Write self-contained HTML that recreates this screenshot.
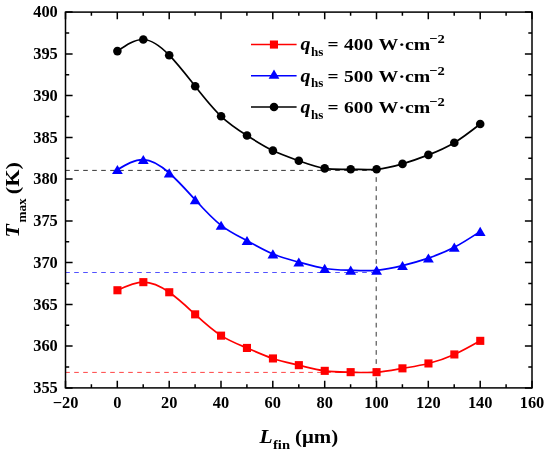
<!DOCTYPE html><html><head><meta charset="utf-8"><title>Tmax vs Lfin</title><style>html,body{margin:0;padding:0;background:#fff}svg{display:block}text{font-family:"Liberation Serif",serif;font-weight:bold;fill:#000}</style></head><body>
<svg width="550" height="457" viewBox="0 0 550 457">
<rect width="550" height="457" fill="#fff"/>
<g fill="none" stroke-width="0.85" stroke-dasharray="4.6 4.4">
<path d="M65.2,170.4H376.2" stroke="#111"/>
<path d="M376.2,168.1V387.9" stroke="#111" stroke-dasharray="4.7 4.4"/>
<path d="M65.2,272.5H376.2" stroke="#33f"/>
<path d="M65.2,372.4H376.2" stroke="#f22"/>
</g>
<path d="M65.5,387.9v-7.1M65.5,12.1v7.1M91.4,387.9v-3.7M91.4,12.1v3.7M117.3,387.9v-7.1M117.3,12.1v7.1M143.2,387.9v-3.7M143.2,12.1v3.7M169.2,387.9v-7.1M169.2,12.1v7.1M195.1,387.9v-3.7M195.1,12.1v3.7M221.0,387.9v-7.1M221.0,12.1v7.1M246.9,387.9v-3.7M246.9,12.1v3.7M272.8,387.9v-7.1M272.8,12.1v7.1M298.8,387.9v-3.7M298.8,12.1v3.7M324.7,387.9v-7.1M324.7,12.1v7.1M350.6,387.9v-3.7M350.6,12.1v3.7M376.5,387.9v-7.1M376.5,12.1v7.1M402.4,387.9v-3.7M402.4,12.1v3.7M428.3,387.9v-7.1M428.3,12.1v7.1M454.2,387.9v-3.7M454.2,12.1v3.7M480.2,387.9v-7.1M480.2,12.1v7.1M506.1,387.9v-3.7M506.1,12.1v3.7M532.0,387.9v-7.1M532.0,12.1v7.1M65.5,387.9h7.1M532.0,387.9h-7.1M65.5,367.0h3.7M532.0,367.0h-3.7M65.5,346.1h7.1M532.0,346.1h-7.1M65.5,325.3h3.7M532.0,325.3h-3.7M65.5,304.4h7.1M532.0,304.4h-7.1M65.5,283.5h3.7M532.0,283.5h-3.7M65.5,262.6h7.1M532.0,262.6h-7.1M65.5,241.8h3.7M532.0,241.8h-3.7M65.5,220.9h7.1M532.0,220.9h-7.1M65.5,200.0h3.7M532.0,200.0h-3.7M65.5,179.1h7.1M532.0,179.1h-7.1M65.5,158.2h3.7M532.0,158.2h-3.7M65.5,137.4h7.1M532.0,137.4h-7.1M65.5,116.5h3.7M532.0,116.5h-3.7M65.5,95.6h7.1M532.0,95.6h-7.1M65.5,74.7h3.7M532.0,74.7h-3.7M65.5,53.9h7.1M532.0,53.9h-7.1M65.5,33.0h3.7M532.0,33.0h-3.7M65.5,12.1h7.1M532.0,12.1h-7.1" stroke="#000" stroke-width="1.5" fill="none"/>
<rect x="65.5" y="12.1" width="466.5" height="375.8" fill="none" stroke="#000" stroke-width="1.5"/>
<path d="M117.4,290.30C126.0,286.20 134.7,282.10 143.3,282.10C152.0,282.10 160.6,286.21 169.2,292.30C177.9,298.39 186.5,306.48 195.2,314.40C203.8,322.32 212.4,330.09 221.1,335.60C229.7,341.11 238.3,344.37 247.0,348.00C255.6,351.63 264.3,355.62 272.9,358.50C281.5,361.38 290.2,363.14 298.8,365.20C307.5,367.26 316.1,369.62 324.7,370.80C333.4,371.98 342.0,371.99 350.7,372.20C359.3,372.41 367.9,372.83 376.6,372.20C385.2,371.57 393.8,369.89 402.5,368.40C411.1,366.91 419.8,365.62 428.4,363.50C437.0,361.38 445.7,358.42 454.3,354.50C463.0,350.58 471.6,345.69 480.2,340.80" fill="none" stroke="#f00" stroke-width="1.7"/>
<path d="M117.4,169.70C126.0,164.55 134.7,159.39 143.3,159.60C152.0,159.81 160.6,165.38 169.2,173.00C177.9,180.62 186.5,190.28 195.2,199.80C203.8,209.32 212.4,218.70 221.1,225.40C229.7,232.10 238.3,236.13 247.0,240.70C255.6,245.27 264.3,250.39 272.9,254.00C281.5,257.61 290.2,259.72 298.8,262.10C307.5,264.48 316.1,267.11 324.7,268.50C333.4,269.89 342.0,270.02 350.7,270.30C359.3,270.58 367.9,271.01 376.6,270.30C385.2,269.59 393.8,267.75 402.5,265.60C411.1,263.45 419.8,261.01 428.4,258.10C437.0,255.19 445.7,251.81 454.3,247.30C463.0,242.79 471.6,237.14 480.2,231.50" fill="none" stroke="#00f" stroke-width="1.7"/>
<path d="M117.4,51.10C126.0,45.15 134.7,39.21 143.3,39.50C152.0,39.79 160.6,46.33 169.2,55.20C177.9,64.07 186.5,75.29 195.2,86.30C203.8,97.31 212.4,108.12 221.1,116.30C229.7,124.48 238.3,130.02 247.0,135.50C255.6,140.98 264.3,146.41 272.9,150.60C281.5,154.79 290.2,157.73 298.8,160.80C307.5,163.87 316.1,167.06 324.7,168.40C333.4,169.74 342.0,169.23 350.7,169.30C359.3,169.37 367.9,170.02 376.6,169.30C385.2,168.58 393.8,166.48 402.5,163.90C411.1,161.32 419.8,158.26 428.4,154.90C437.0,151.54 445.7,147.90 454.3,142.70C463.0,137.50 471.6,130.75 480.2,124.00" fill="none" stroke="#000" stroke-width="1.7"/>
<g fill="#f00"><rect x="113.4" y="286.2" width="8.1" height="8.1"/><rect x="139.3" y="278.1" width="8.1" height="8.1"/><rect x="165.2" y="288.2" width="8.1" height="8.1"/><rect x="191.1" y="310.3" width="8.1" height="8.1"/><rect x="217.0" y="331.6" width="8.1" height="8.1"/><rect x="242.9" y="343.9" width="8.1" height="8.1"/><rect x="268.9" y="354.4" width="8.1" height="8.1"/><rect x="294.8" y="361.1" width="8.1" height="8.1"/><rect x="320.7" y="366.8" width="8.1" height="8.1"/><rect x="346.6" y="368.1" width="8.1" height="8.1"/><rect x="372.5" y="368.1" width="8.1" height="8.1"/><rect x="398.4" y="364.3" width="8.1" height="8.1"/><rect x="424.4" y="359.4" width="8.1" height="8.1"/><rect x="450.3" y="350.4" width="8.1" height="8.1"/><rect x="476.2" y="336.8" width="8.1" height="8.1"/><rect x="269.9" y="40.5" width="8.1" height="8.1"/></g>
<g fill="#00f"><path d="M117.4,165.0l5.4,9.1h-10.8z"/><path d="M143.3,154.9l5.4,9.1h-10.8z"/><path d="M169.2,168.3l5.4,9.1h-10.8z"/><path d="M195.2,195.1l5.4,9.1h-10.8z"/><path d="M221.1,220.7l5.4,9.1h-10.8z"/><path d="M247.0,236.0l5.4,9.1h-10.8z"/><path d="M272.9,249.3l5.4,9.1h-10.8z"/><path d="M298.8,257.4l5.4,9.1h-10.8z"/><path d="M324.7,263.8l5.4,9.1h-10.8z"/><path d="M350.7,265.6l5.4,9.1h-10.8z"/><path d="M376.6,265.6l5.4,9.1h-10.8z"/><path d="M402.5,260.9l5.4,9.1h-10.8z"/><path d="M428.4,253.4l5.4,9.1h-10.8z"/><path d="M454.3,242.6l5.4,9.1h-10.8z"/><path d="M480.2,226.8l5.4,9.1h-10.8z"/><path d="M274.0,69.6l5.4,9.1h-10.8z"/></g>
<g fill="#000"><circle cx="117.4" cy="51.1" r="4.3"/><circle cx="143.3" cy="39.5" r="4.3"/><circle cx="169.2" cy="55.2" r="4.3"/><circle cx="195.2" cy="86.3" r="4.3"/><circle cx="221.1" cy="116.3" r="4.3"/><circle cx="247.0" cy="135.5" r="4.3"/><circle cx="272.9" cy="150.6" r="4.3"/><circle cx="298.8" cy="160.8" r="4.3"/><circle cx="324.7" cy="168.4" r="4.3"/><circle cx="350.7" cy="169.3" r="4.3"/><circle cx="376.6" cy="169.3" r="4.3"/><circle cx="402.5" cy="163.9" r="4.3"/><circle cx="428.4" cy="154.9" r="4.3"/><circle cx="454.3" cy="142.7" r="4.3"/><circle cx="480.2" cy="124.0" r="4.3"/><circle cx="274.0" cy="107.0" r="4.3"/></g>
<path d="M251,44.5H296.6" stroke="#f00" stroke-width="1.6"/>
<path d="M251,75.7H296.6" stroke="#00f" stroke-width="1.6"/>
<path d="M251,107H296.6" stroke="#000" stroke-width="1.7"/>
<text transform="translate(300.6,50.4) scale(1.08,1)" font-size="18.5" font-style="italic">q</text>
<text transform="translate(311.0,56.0) scale(1.06,1)" font-size="12.4">hs</text>
<text transform="translate(327.6,50.4) scale(1.08,0.97)" font-size="18">=</text>
<text transform="translate(344.0,50.4) scale(1.08,0.97)" font-size="18">400</text>
<text transform="translate(378.6,50.4) scale(1.1,0.97)" font-size="18">W·cm</text>
<text transform="translate(429.3,43.4) scale(1.08,1)" font-size="13.5">−2</text>
<text transform="translate(300.6,81.6) scale(1.08,1)" font-size="18.5" font-style="italic">q</text>
<text transform="translate(311.0,87.2) scale(1.06,1)" font-size="12.4">hs</text>
<text transform="translate(327.6,81.6) scale(1.08,0.97)" font-size="18">=</text>
<text transform="translate(344.0,81.6) scale(1.08,0.97)" font-size="18">500</text>
<text transform="translate(378.6,81.6) scale(1.1,0.97)" font-size="18">W·cm</text>
<text transform="translate(429.3,74.6) scale(1.08,1)" font-size="13.5">−2</text>
<text transform="translate(300.6,112.9) scale(1.08,1)" font-size="18.5" font-style="italic">q</text>
<text transform="translate(311.0,118.5) scale(1.06,1)" font-size="12.4">hs</text>
<text transform="translate(327.6,112.9) scale(1.08,0.97)" font-size="18">=</text>
<text transform="translate(344.0,112.9) scale(1.08,0.97)" font-size="18">600</text>
<text transform="translate(378.6,112.9) scale(1.1,0.97)" font-size="18">W·cm</text>
<text transform="translate(429.3,105.9) scale(1.08,1)" font-size="13.5">−2</text>
<text x="57.8" y="393.0" font-size="16.4" text-anchor="end">355</text>
<text x="57.8" y="351.2" font-size="16.4" text-anchor="end">360</text>
<text x="57.8" y="309.5" font-size="16.4" text-anchor="end">365</text>
<text x="57.8" y="267.7" font-size="16.4" text-anchor="end">370</text>
<text x="57.8" y="226.0" font-size="16.4" text-anchor="end">375</text>
<text x="57.8" y="184.2" font-size="16.4" text-anchor="end">380</text>
<text x="57.8" y="142.5" font-size="16.4" text-anchor="end">385</text>
<text x="57.8" y="100.7" font-size="16.4" text-anchor="end">390</text>
<text x="57.8" y="59.0" font-size="16.4" text-anchor="end">395</text>
<text x="57.8" y="17.2" font-size="16.4" text-anchor="end">400</text>
<text x="65.5" y="408.4" font-size="16.4" text-anchor="middle">−20</text>
<text x="117.3" y="408.4" font-size="16.4" text-anchor="middle">0</text>
<text x="169.2" y="408.4" font-size="16.4" text-anchor="middle">20</text>
<text x="221.0" y="408.4" font-size="16.4" text-anchor="middle">40</text>
<text x="272.8" y="408.4" font-size="16.4" text-anchor="middle">60</text>
<text x="324.7" y="408.4" font-size="16.4" text-anchor="middle">80</text>
<text x="376.5" y="408.4" font-size="16.4" text-anchor="middle">100</text>
<text x="428.3" y="408.4" font-size="16.4" text-anchor="middle">120</text>
<text x="480.2" y="408.4" font-size="16.4" text-anchor="middle">140</text>
<text x="532.0" y="408.4" font-size="16.4" text-anchor="middle">160</text>
<text transform="translate(259.5,443.1) scale(1.13,0.97)" font-size="19" font-style="italic">L</text>
<text transform="translate(273.0,449.4) scale(1.08,1)" font-size="13.5">fin</text>
<text transform="translate(295.0,443.1) scale(1.1,0.97)" font-size="19">(μm)</text>
<text transform="translate(19.2,237.4) rotate(-90) scale(1.12,0.97)" font-size="19.5" font-style="italic">T</text>
<text transform="translate(25.6,222.6) rotate(-90) scale(0.98,1)" font-size="13.5">max</text>
<text transform="translate(19.2,194.2) rotate(-90) scale(1.14,0.99)" font-size="19.5">(K)</text>
</svg></body></html>
